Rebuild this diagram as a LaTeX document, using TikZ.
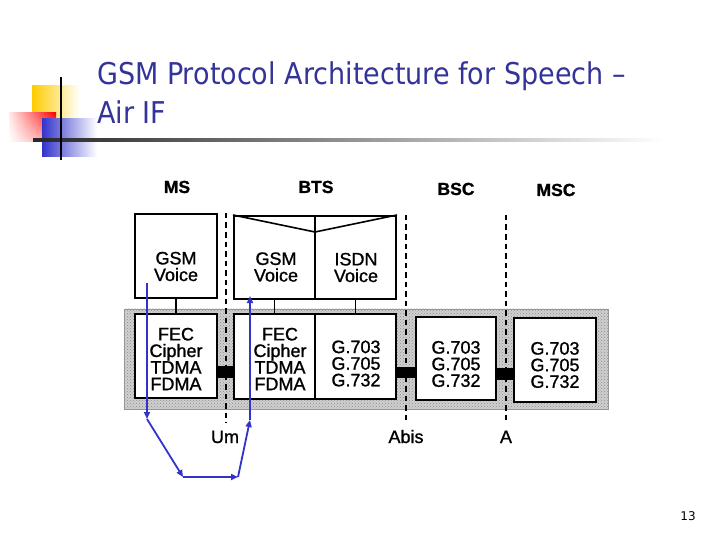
\documentclass[tikz,border=0pt]{standalone}
\usepackage{fontspec}
\setmainfont{Liberation Sans}
\newfontfamily\titlefont{DejaVu Sans}
\newfontfamily\scanfont[FakeBold=1.1]{Liberation Sans}
\newfontfamily\scanboldfont[FakeBold=1.1]{Liberation Sans Bold}
\usetikzlibrary{arrows.meta,shadings,patterns}
\definecolor{titleblue}{RGB}{51,51,153}
\definecolor{arrowblue}{RGB}{51,51,204}
\definecolor{bandgray}{RGB}{208,208,208}
\definecolor{logoyellow}{RGB}{255,204,0}
\definecolor{logored}{RGB}{255,0,0}
\definecolor{logoblue}{RGB}{51,51,204}
\begin{document}
\begin{tikzpicture}[x=1pt,y=-1pt,
  box/.style={draw=black, line width=2pt, fill=white, inner sep=0pt},
  boxtext/.style={font=\scanfont\fontsize{18}{16.6}\selectfont, align=center, inner sep=0pt},
  header/.style={font=\scanboldfont\fontsize{17.5}{17}\selectfont, inner sep=0pt, anchor=base},
  iflabel/.style={font=\scanfont\fontsize{18}{17}\selectfont, inner sep=0pt, anchor=base},
  ifline/.style={line width=2.6pt, dash pattern=on 5.5pt off 4pt},
  linkbar/.style={fill=black, draw=none, inner sep=0pt},
  flow/.style={draw=arrowblue, line width=1.8pt, -{Triangle[length=7pt,width=6pt]}},
]
\useasboundingbox (0,0) rectangle (720,540);

% logo
\shade[left color=logoyellow, middle color=logoyellow, right color=white] (32,86) rectangle (80,128);
\shade[upper right=logored, upper left=logored!8, lower right=logored!40, lower left=white] (9,113) rectangle (56,142);
\shade[left color=logoblue, middle color=logoblue, right color=white] (42,119) rectangle (97,157);
\shade[left color=black!85, right color=white] (33,139) rectangle (665,141.5);
\draw[line width=2pt] (61,77) -- (61,160);

% title
\node[anchor=north west, inner sep=0pt, align=left, text=titleblue,
      font=\titlefont\fontsize{30}{39}\selectfont] (title) at (97,61.2)
  {\scalebox{0.9}[1]{GSM Protocol Architecture for Speech –}\\\scalebox{0.9}[1]{Air IF}};

% headers
\node[header] (hms) at (177,193) {MS};
\node[header] (hbts) at (316,193) {BTS};
\node[header] (hbsc) at (456,195) {BSC};
\node[header] (hmsc) at (556,196) {MSC};

% band
\node[fill=bandgray, draw=gray!80, line width=1pt, minimum width=484pt, minimum height=100pt, inner sep=0pt] (band) at (366,359) {};
\fill[pattern=crosshatch dots, pattern color=gray!90] (band.north west) rectangle (band.south east);

% interface lines
\coordinate (umt) at (226,213);  \coordinate (umb) at (226,423);
\coordinate (abt) at (406,215);  \coordinate (abb) at (406,423);
\coordinate (at) at (506,215);   \coordinate (ab) at (506,420);
\draw[ifline] (umt) -- (umb);
\draw[ifline] (abt) -- (abb);
\draw[ifline] (at) -- (ab);
\node[iflabel] (um) at (225,443) {Um};
\node[iflabel] (abis) at (406,443) {Abis};
\node[iflabel] (aif) at (506,443) {A};

% links between lower boxes
\node[linkbar, minimum width=19pt, minimum height=12pt] (l1) at (225.5,372) {};
\node[linkbar, minimum width=22pt, minimum height=11pt] (l2) at (406,372.5) {};
\node[linkbar, minimum width=20pt, minimum height=12pt] (l3) at (505,374) {};

% top boxes
\node[box, minimum width=82pt, minimum height=84pt] (msv) at (176,256) {};
\node[box, minimum width=81pt, minimum height=83pt] (btsg) at (274.5,257.5) {};
\node[box, minimum width=81pt, minimum height=83pt] (btsi) at (355.5,257.5) {};
\coordinate (apex) at (315,232);
\draw[line width=1.6pt] (btsg.north west) -- (apex) -- (btsi.north east);

% lower boxes
\node[box, minimum width=82pt, minimum height=84pt] (msl) at (176,356) {};
\node[box, minimum width=81pt, minimum height=85pt] (btsf) at (274.5,356.5) {};
\node[box, minimum width=81pt, minimum height=85pt] (btsd) at (355.5,356.5) {};
\node[box, minimum width=80pt, minimum height=83pt] (bscb) at (456,358.5) {};
\node[box, minimum width=82pt, minimum height=84pt] (mscb) at (555,360) {};

% stubs
\draw[line width=1.6pt] (msv.south) -- (msl.north);
\draw[line width=1.6pt] (btsg.south) -- (btsf.north);
\draw[line width=1.6pt] (btsi.south) -- (btsd.north);

% texts
\node[boxtext] (msvt) at (176,266.5) {GSM\\Voice};
\node[boxtext] (btsgt) at (276,267) {GSM\\Voice};
\node[boxtext] (btsit) at (356,267.5) {ISDN\\Voice};
\node[boxtext] (mslt) at (176,359) {FEC\\Cipher\\TDMA\\FDMA};
\node[boxtext] (btsft) at (280,359) {FEC\\Cipher\\TDMA\\FDMA};
\node[boxtext] (btsdt) at (356,363.5) {G.703\\G.705\\G.732};
\node[boxtext] (bscbt) at (456,364) {G.703\\G.705\\G.732};
\node[boxtext] (mscbt) at (555,365) {G.703\\G.705\\G.732};

% blue speech path
\coordinate (a1) at (147,283);
\coordinate (a2) at (147,419);
\coordinate (a3) at (183,477);
\coordinate (a4) at (238,477);
\coordinate (a5) at (250,420);
\coordinate (a6) at (250,296);
\draw[flow] (a1) -- (a2);
\draw[flow] (a2) -- (a3);
\draw[flow] (a3) -- (a4);
\draw[flow] (a4) -- (a5);
\draw[flow] (a5) -- (a6);

% page number
\node[font=\titlefont\fontsize{12}{12}\selectfont, anchor=base, inner sep=0pt] (pg) at (688,520) {13};
\end{tikzpicture}
\end{document}
